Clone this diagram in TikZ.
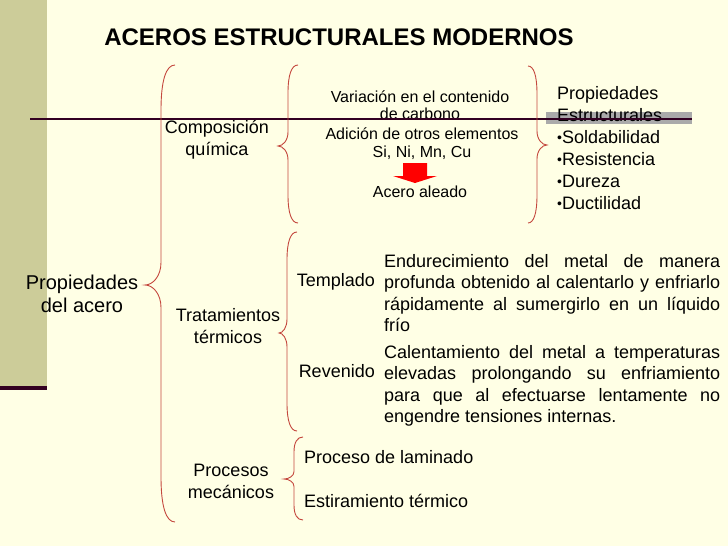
\documentclass[tikz,border=0pt]{standalone}
\usepackage{fontspec}
\setmainfont{Liberation Sans}
\definecolor{cream}{RGB}{255,255,229}
\definecolor{sidetan}{RGB}{204,204,153}
\definecolor{darkline}{RGB}{51,0,34}
\definecolor{bracered}{RGB}{196,72,62}
\definecolor{bargrey}{RGB}{170,170,170}
\newcommand{\fsz}[2]{\fontsize{#1}{#2}\selectfont}
\newcommand{\dotitem}{{\fsz{14}{14}\raisebox{1pt}{•}}}
\newcommand{\bracecurve}[7]{\draw[brc] (#1,#4) .. controls ({#2+0.35*(#1-#2)},#4) and (#2,#4+0.35*#7) .. (#2,#4+#7) -- (#2,#5-0.5*#7) .. controls (#2,#5-0.2*#7) and ({#3+0.5*(#2-#3)},#5) .. (#3,#5) .. controls ({#3+0.5*(#2-#3)},#5) and (#2,#5+0.2*#7) .. (#2,#5+0.5*#7) -- (#2,#6-#7) .. controls (#2,#6-0.35*#7) and ({#2+0.35*(#1-#2)},#6) .. (#1,#6);}
\begin{document}
\begin{tikzpicture}[x=1pt, y=-1pt, every node/.style={inner sep=0pt}, brc/.style={draw=bracered, line width=0.9pt}, txt/.style={font=\fsz{18}{22}}, small/.style={font=\fsz{16}{17.5}}, para/.style={text width=336pt, align=justify, font=\fsz{18}{21.5}, anchor=north west}]
	\useasboundingbox (0,0) rectangle (728,546);
	\fill[cream] (0,0) rectangle (728,546);
	\fill[sidetan] (0,0) rectangle (47,388);
	\fill[darkline] (0,386) rectangle (47,390);
	\fill[bargrey] (546,112) rectangle (692,124);
	\node[font=\bfseries\fsz{24}{28}] (Titulo) at (339,37) {ACEROS ESTRUCTURALES MODERNOS};
	\node[align=center, font=\fsz{20}{23}] (Propiedades acero) at (82,294) {Propiedades\\del acero};
	\node[txt, align=center] (Composicion) at (217,140) {Composición\\química};
	\node[txt, align=center] (Tratamientos) at (228,326) {Tratamientos\\térmicos};
	\node[txt, align=center] (Procesos) at (231,481) {Procesos\\mecánicos};
	\node[small, align=center] (Variacion) at (420,105) {Variación en el contenido\\de carbono};
	\node[small, align=center, font=\fsz{16}{18}] (Adicion) at (422,144) {Adición de otros elementos\\Si, Ni, Mn, Cu};
	\node[small] (Acero aleado) at (420,192) {Acero aleado};
	\node[txt, align=left, anchor=west] (Propiedades estructurales) at (557,148) {Propiedades\\Estructurales\\\dotitem Soldabilidad\\\dotitem Resistencia\\\dotitem Dureza\\\dotitem Ductilidad};
	\node[txt, anchor=east] (Templado) at (375,282) {Templado};
	\node[txt, anchor=east] (Revenido) at (375,371) {Revenido};
	\node[para] (Endurecimiento) at (384,254) {Endurecimiento del metal de manera\linebreak profunda obtenido al calentarlo y enfriarlo\linebreak rápidamente al sumergirlo en un líquido\linebreak frío};
	\node[para] (Calentamiento) at (384,345) {Calentamiento del metal a temperaturas\linebreak elevadas prolongando su enfriamiento\linebreak para que al efectuarse lentamente no\linebreak engendre tensiones internas.};
	\node[txt, anchor=west] (Laminado) at (304,457) {Proceso de laminado};
	\node[txt, anchor=west] (Estiramiento) at (304,501) {Estiramiento térmico};
	\draw[darkline, line width=2.5pt] (30,119) -- (692,119);
	\fill[red] (403,163) -- (427,163) -- (427,176) -- (437,176) -- (415,183) -- (393,176) -- (403,176) -- cycle;
	\bracecurve{175}{161}{145}{65}{285}{522}{45}
	\bracecurve{298}{288}{278}{65}{146}{223}{28}
	\bracecurve{297}{287}{279}{232}{333}{431}{28}
	\bracecurve{303}{294}{284}{437}{479}{520}{15}
	\bracecurve{528}{537}{547}{66}{145}{223}{28}
\end{tikzpicture}
\end{document}
